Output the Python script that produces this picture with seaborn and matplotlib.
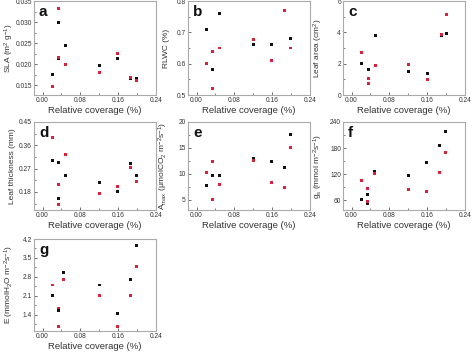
import numpy as np
import pandas as pd
import seaborn as sns
import matplotlib.pyplot as plt
from matplotlib.ticker import AutoMinorLocator

# relative coverage (%) shared by the panels
cov = [0.022, 0.033, 0.033, 0.048, 0.12, 0.158, 0.187, 0.199]

sla_black = [0.0175, 0.0300, 0.0213, 0.0244, 0.0196, 0.0213, 0.0165, 0.0167]
sla_red = [0.0147, 0.0333, 0.0217, 0.0200, 0.0181, 0.0225, 0.0169, 0.0161]

rlwc_cov_black = [0.022, 0.033, 0.048, 0.12, 0.158, 0.199]
rlwc_black = [0.71, 0.58, 0.76, 0.66, 0.66, 0.68]
rlwc_red = [0.60, 0.64, 0.52, 0.65, 0.678, 0.61, 0.77, 0.65]

la_cov_black = [0.022, 0.035, 0.05, 0.12, 0.16, 0.19, 0.20]
la_cov_red = [0.022, 0.035, 0.035, 0.05, 0.12, 0.16, 0.19, 0.20]
la_black = [2.0, 1.6, 3.8, 1.5, 1.35, 3.8, 3.95]
la_red = [2.7, 1.05, 0.75, 1.9, 1.95, 1.0, 3.85, 5.15]

lt_black = [0.30, 0.295, 0.155, 0.245, 0.215, 0.18, 0.29, 0.245]
lt_red = [0.39, 0.21, 0.13, 0.325, 0.175, 0.20, 0.275, 0.22]

amax_black = [7.7, 9.7, 5.1, 9.7, 12.9, 12.4, 11.3, 17.6]
amax_red = [10.3, 12.3, 5.0, 7.9, 12.5, 8.4, 7.4, 15.1]

gs_black = [62, 73, 52, 126, 117, 148, 186, 218]
gs_red = [106, 88, 58, 122, 86, 81, 124, 170]

e_cov_black = [0.022, 0.033, 0.045, 0.12, 0.158, 0.187, 0.199]
e_black = [2.1, 1.55, 2.95, 2.5, 1.45, 2.7, 3.95]
e_cov_red = [0.022, 0.033, 0.033, 0.045, 0.12, 0.158, 0.187, 0.199]
e_red = [2.5, 1.65, 0.95, 2.7, 2.1, 0.98, 2.1, 3.2]

panels = [
    ("a", "SLA (m$^2$ g$^{-1}$)", cov, sla_black, cov, sla_red, (0.0127, 0.035),
     [0.015, 0.020, 0.025, 0.030, 0.035], "%.3f"),
    ("b", "RLWC (%)", rlwc_cov_black, rlwc_black, cov, rlwc_red, (0.5, 0.8),
     [0.5, 0.6, 0.7, 0.8], "%.1f"),
    ("c", "Leaf area (cm$^2$)", la_cov_black, la_black, la_cov_red, la_red, (0, 6),
     [0, 2, 4, 6], "%d"),
    ("d", "Leaf thickness (mm)", cov, lt_black, cov, lt_red, (0.11, 0.45),
     [0.18, 0.27, 0.36, 0.45], "%.2f"),
    ("e", "A$_{max}$ (μmolCO$_2$ m$^{-2}$s$^{-1}$)", cov, amax_black, cov, amax_red, (3, 20),
     [5, 10, 15, 20], "%d"),
    ("f", "g$_s$ (mmol m$^{-2}$s$^{-1}$)", cov, gs_black, cov, gs_red, (38, 240),
     [60, 120, 180, 240], "%d"),
    ("g", "E (mmolH$_2$O m$^{-2}$s$^{-1}$)", e_cov_black, e_black, e_cov_red, e_red, (0.8, 4.2),
     [1.4, 2.1, 2.8, 3.5, 4.2], "%.1f"),
]

sns.set_style("ticks")
plt.rcParams['font.family'] = ['Liberation Sans', 'DejaVu Sans']
plt.rcParams['mathtext.fontset'] = 'custom'
plt.rcParams['mathtext.rm'] = 'Liberation Sans'
plt.rcParams['mathtext.it'] = 'Liberation Sans'

fig = plt.figure(figsize=(4.74, 3.55), dpi=100)

lefts = [34, 188, 343]
rows = [(1, 95), (122, 210), (239, 331)]
W, H = 474, 355

for i, (letter, ylab, xb, yb, xr, yr, ylim, yticks, fmt) in enumerate(panels):
    r, c = divmod(i, 3)
    top, bot = rows[r]
    ax = fig.add_axes([lefts[c] / W, 1 - bot / H, 122 / W, (bot - top) / H])
    df = pd.concat([
        pd.DataFrame({"x": xb, "y": yb, "g": "black"}),
        pd.DataFrame({"x": xr, "y": yr, "g": "red"}),
    ])
    sns.scatterplot(data=df, x="x", y="y", hue="g", palette={"black": "#111111", "red": "#d9213a"},
                    marker="s", s=4.5, linewidth=0, legend=False, ax=ax)
    ax.set_xlim(-0.018, 0.24)
    ax.set_ylim(*ylim)
    ax.set_xticks([0.00, 0.08, 0.16, 0.24])
    ax.set_xticklabels(["0.00", "0.08", "0.16", "0.24"])
    ax.set_yticks(yticks)
    ax.set_yticklabels([fmt % v for v in yticks])
    ax.xaxis.set_minor_locator(AutoMinorLocator(2))
    ax.yaxis.set_minor_locator(AutoMinorLocator(2))
    ax.tick_params(which="both", direction="in", colors="#555555", labelcolor="#333333",
                   labelsize=4.8, pad=1.5)
    ax.tick_params(which="major", length=2.5, width=0.6)
    ax.tick_params(which="minor", length=1.5, width=0.5)
    for sp in ax.spines.values():
        sp.set_color("#aaaaaa")
        sp.set_linewidth(0.8)
    ax.set_xlabel("Relative coverage (%)", fontsize=6.8, color="#333333", labelpad=1.5)
    ax.set_ylabel(ylab, fontsize=6, color="#333333")
    ax.yaxis.set_label_coords(-0.15, 0.5)
    ax.text(0.04, 0.96, letter, transform=ax.transAxes, fontsize=11, fontweight="bold",
            va="top", ha="left", color="#111111")

fig.savefig("out.png", dpi=100)
